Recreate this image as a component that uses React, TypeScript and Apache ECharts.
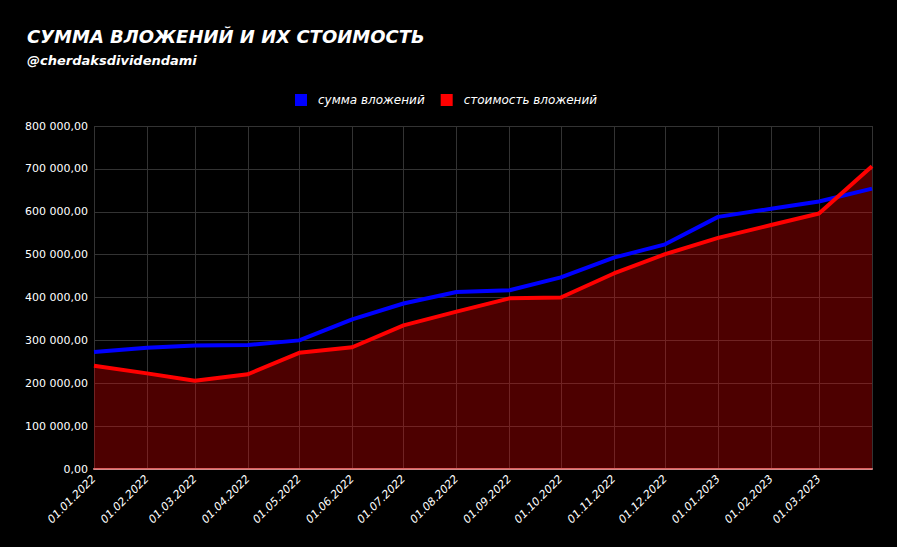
import React, { useEffect, useRef } from 'react';
import * as echarts from 'echarts';

// month starts, 01.01.2022 .. 01.04.2023
const dates = [
  '2022-01-01', '2022-02-01', '2022-03-01', '2022-04-01', '2022-05-01', '2022-06-01',
  '2022-07-01', '2022-08-01', '2022-09-01', '2022-10-01', '2022-11-01', '2022-12-01',
  '2023-01-01', '2023-02-01', '2023-03-01', '2023-04-01',
];

const invested = [
  273000, 283000, 288000, 289000, 300000, 349000, 386000, 413000,
  417000, 447000, 493000, 524000, 588000, 607000, 624000, 654000,
];

const marketValue = [
  241000, 223000, 206000, 221000, 271000, 284000, 335000, 367000,
  398000, 400000, 456000, 501000, 539000, 569000, 596000, 706000,
];

const seriesNames = ['сумма вложений', 'стоимость вложений'];

const fmtMoney = (v: number) => {
  const s = Math.round(v).toString().replace(/\B(?=(\d{3})+(?!\d))/g, ' ');
  return s + ',00';
};

const pad = (n: number) => (n < 10 ? '0' + n : '' + n);

const ChartPage: React.FC = () => {
  const chartRef = useRef<HTMLDivElement>(null);

  useEffect(() => {
    const chart = echarts.init(chartRef.current!, null, { renderer: 'svg' });

    const toPairs = (vals: number[]) => dates.map((d, i) => [d, vals[i]]);
    const lastTime = new Date(dates[dates.length - 1]).getTime();

    const options = {
      animation: false,
      backgroundColor: '#000',
      textStyle: { fontFamily: 'DejaVu Sans' },
      title: {
        text: 'СУММА ВЛОЖЕНИЙ И ИХ СТОИМОСТЬ',
        subtext: '@cherdaksdividendami',
        left: 22,
        top: 22,
        itemGap: 9,
        textStyle: {
          color: '#fff',
          fontSize: 18,
          fontStyle: 'italic',
          fontWeight: 'bold',
          fontFamily: 'DejaVu Sans',
        },
        subtextStyle: {
          color: '#fff',
          fontSize: 13,
          fontStyle: 'italic',
          fontWeight: 'bold',
          fontFamily: 'DejaVu Sans',
        },
      },
      legend: {
        data: seriesNames,
        left: 290,
        top: 89,
        icon: 'rect',
        itemWidth: 12,
        itemHeight: 12,
        itemGap: 16,
        textStyle: {
          color: '#fff',
          fontSize: 12,
          fontStyle: 'italic',
          padding: [0, 0, 0, 6],
        },
      },
      grid: {
        left: 94,
        right: 25,
        top: 126,
        bottom: 78,
      },
      xAxis: {
        type: 'time',
        min: dates[0],
        max: dates[dates.length - 1],
        splitNumber: 15,
        minInterval: 28 * 86400000,
        maxInterval: 31 * 86400000,
        axisLine: { lineStyle: { color: '#d08a8a', width: 2 } },
        axisTick: { show: false },
        splitLine: { show: true, lineStyle: { color: '#333', width: 1 } },
        axisLabel: {
          color: '#fff',
          fontSize: 11,
          fontStyle: 'italic',
          rotate: 45,
          margin: 8,
          hideOverlap: false,
          formatter: (val: number) => {
            if (val >= lastTime) return '';
            const d = new Date(val);
            return pad(d.getDate()) + '.' + pad(d.getMonth() + 1) + '.' + d.getFullYear();
          },
        },
      },
      yAxis: {
        type: 'value',
        min: 0,
        max: 800000,
        interval: 100000,
        axisLine: { show: false },
        axisTick: { show: false },
        splitLine: { lineStyle: { color: '#333', width: 1 } },
        axisLabel: {
          color: '#fff',
          fontSize: 11,
          margin: 6,
          formatter: fmtMoney,
        },
      },
      series: [
        {
          name: seriesNames[0],
          type: 'line',
          data: toPairs(invested),
          showSymbol: false,
          symbol: 'none',
          lineStyle: { color: '#0000ff', width: 4 },
          itemStyle: { color: '#0000ff' },
        },
        {
          name: seriesNames[1],
          type: 'line',
          data: toPairs(marketValue),
          showSymbol: false,
          symbol: 'none',
          lineStyle: { color: '#ff0000', width: 4 },
          itemStyle: { color: '#ff0000' },
          areaStyle: { color: '#ff0000', opacity: 0.3 },
        },
      ],
    };

    chart.setOption(options);

    return () => {
      chart.dispose();
    };
  }, []);

  return <div ref={chartRef} style={{ width: '897px', height: '547px' }} />;
};

export default function App() {
  return (
    <div style={{ position: 'absolute', left: 0, top: 0, background: '#000', width: '897px', height: '547px' }}>
      <ChartPage />
    </div>
  );
}
